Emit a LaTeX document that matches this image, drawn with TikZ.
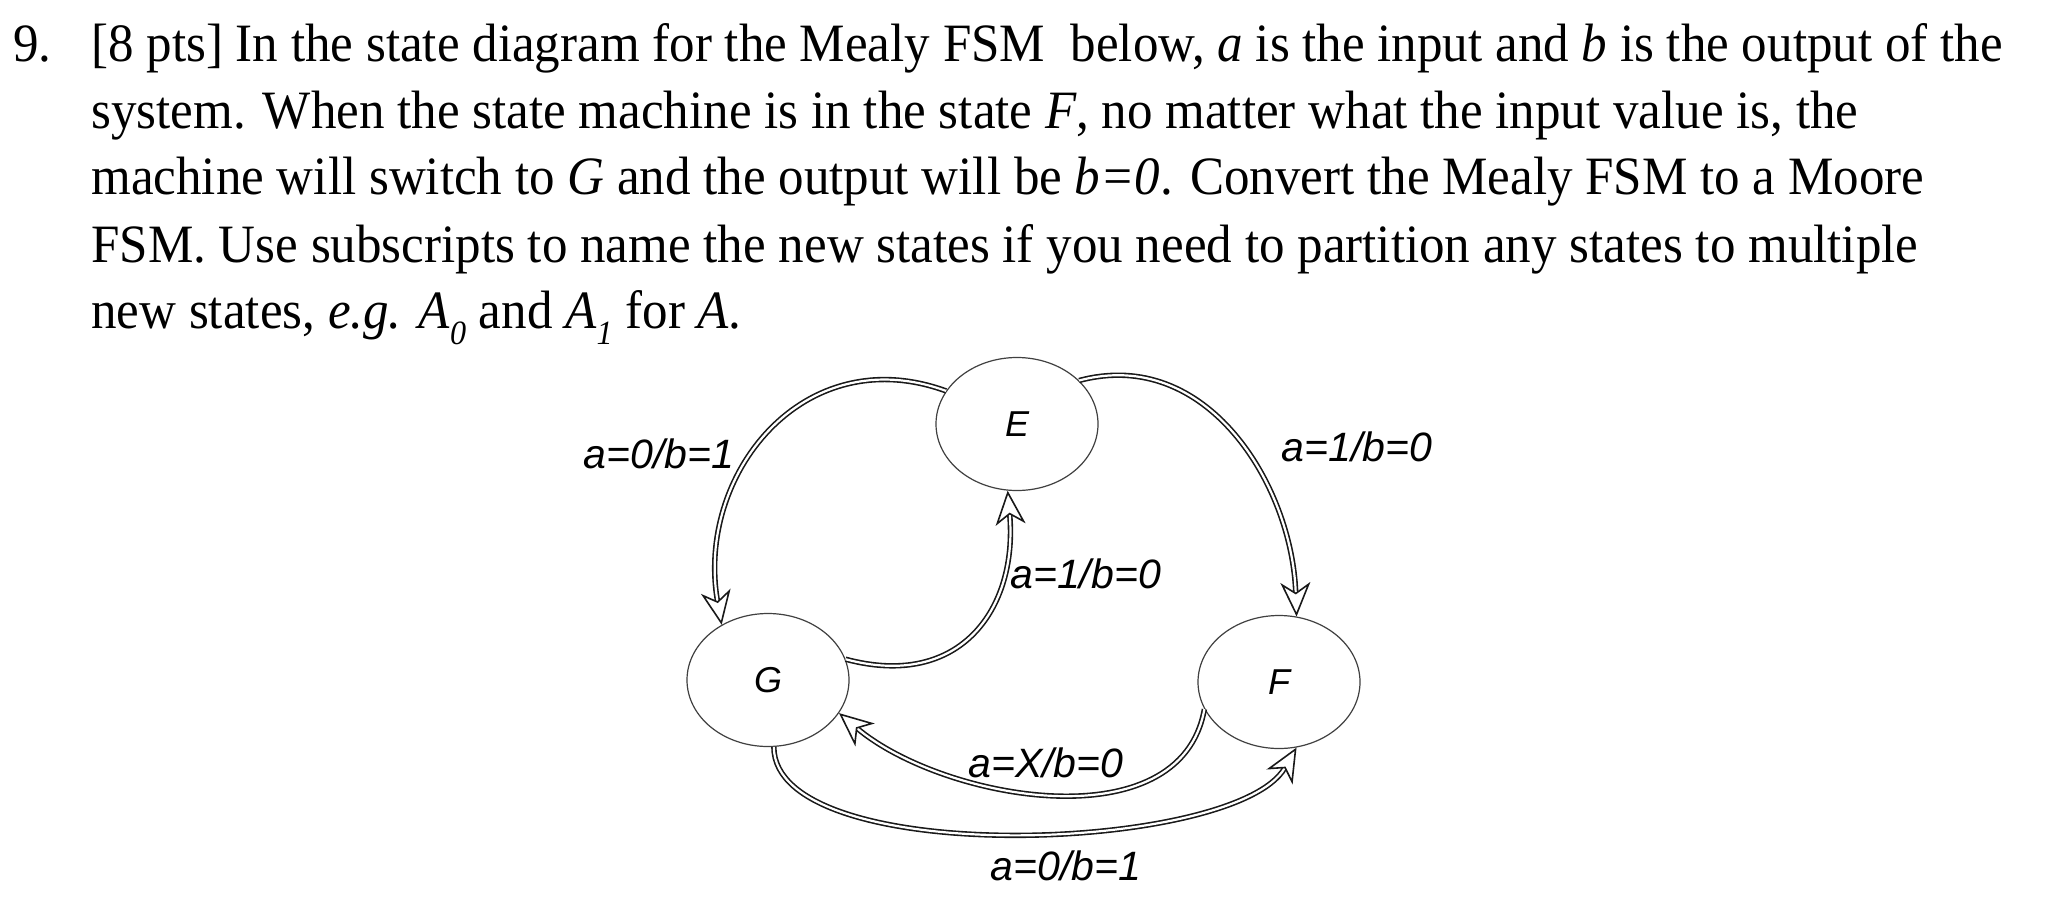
\documentclass[tikz,border=0pt]{standalone}
\usepackage{fontspec}
\setmainfont{Liberation Serif}[FakeStretch=0.945]
\newfontfamily\lblfont{Liberation Sans}
\usetikzlibrary{arrows.meta,shapes.geometric}
\newcommand{\lowsub}[1]{\raisebox{-0.3em}{\fontsize{17}{20}\selectfont\textit{#1}}}
\begin{document}
\begin{tikzpicture}[x=0.5pt,y=-0.5pt,
  textline/.style={anchor=base west, inner sep=0pt, font=\fontsize{27}{32}\selectfont},
  state/.style={ellipse, draw=black!75, line width=0.6pt, fill=white, minimum width=81pt, minimum height=66.5pt, inner sep=0pt, font=\lblfont\itshape\fontsize{18}{20}\selectfont},
  lbl/.style={inner sep=1pt, font=\lblfont\itshape\fontsize{20.5}{23}\selectfont},
  edge/.style={draw=black!90, line width=0.8pt, double=white, double distance=1.1pt, -{Stealth[open, fill=white, length=17pt, width=15pt, inset=5pt]}}]
\useasboundingbox[fill=white] (0,0) rectangle (2046,906);
% question text
\node[textline] (num) at (13,61) {9.};
\node[textline] (l1) at (91,61) {[8 pts] In the state diagram for the Mealy FSM\ \ below, \textit{a} is the input and \textit{b} is the output of the};
\node[textline] (l2) at (91,128) {system. When the state machine is in the state \textit{F}, no matter what the input value is, the};
\node[textline] (l3) at (91,194) {machine will switch to \textit{G} and the output will be \textit{b=0}. Convert the Mealy FSM to a Moore};
\node[textline] (l4) at (91,262) {FSM. Use subscripts to name the new states if you need to partition any states to multiple};
\node[textline] (l5) at (91,328) {new states, \textit{e.g.} \textit{A}\lowsub{0} and \textit{A}\lowsub{1} for \textit{A}.};
% states
\node[state] (E) at (1017,424) {E};
\node[state] (G) at (768,680) {G};
\node[state] (F) at (1279,682) {F};
% transitions
\draw[edge] (E.155) to[out=160,in=100,looseness=1.2] (G.130);
\draw[edge] (E.35) to[out=15,in=92,looseness=1.05] (F.75);
\draw[edge] (G.15) to[out=-15,in=-85,looseness=1.3] (E.262);
\draw[edge] (F.200) to[out=-100,in=-40,looseness=0.95] (G.-25);
\draw[edge] (G.-85) to[out=-90,in=-120,looseness=0.6] (F.-75);
% labels
\node[lbl] (t1) at (659,454) {a=0/b=1};
\node[lbl] (t2) at (1357,447) {a=1/b=0};
\node[lbl, anchor=west] (t3) at (1008,574) {a=1/b=0};
\node[lbl] (t4) at (1046,763) {a=X/b=0};
\node[lbl] (t5) at (1066,866) {a=0/b=1};
\end{tikzpicture}
\end{document}
